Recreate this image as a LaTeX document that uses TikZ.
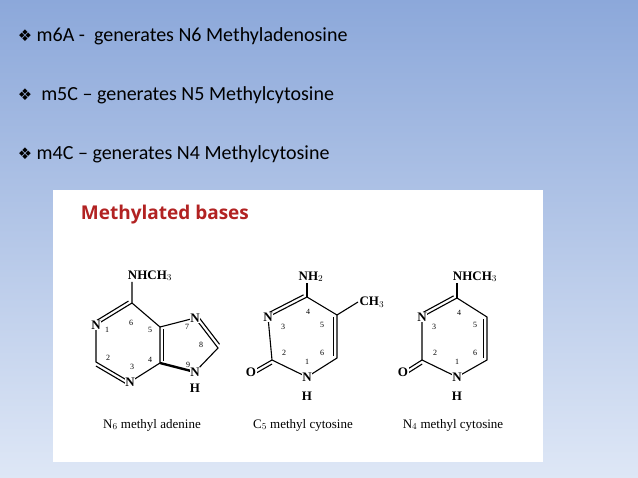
\documentclass[tikz,border=0pt]{standalone}
\usepackage{fontspec}
\setmainfont{Carlito}
\newfontfamily\chemf{Liberation Serif}
\newfontfamily\symf{DejaVu Sans}
\newfontfamily\headf{Open Sans}
\usetikzlibrary{calc}
\newcommand{\dbl}[3]{\draw[shorten <=2pt, shorten >=2pt] ($(#2)!3.5pt!#1:(#3)$) -- ($(#3)!3.5pt!-#1:(#2)$);}
\tikzset{
 atom/.style={fill=white,inner sep=0.6pt,font=\chemf\fontsize{13}{13}\selectfont\bfseries},
 num/.style={inner sep=0pt,font=\chemf\fontsize{8}{8}\selectfont},
 captxt/.style={font=\chemf\fontsize{13}{13}\selectfont},
 bul/.style={anchor=west,font=\fontsize{20}{20}\selectfont},
}
\begin{document}
\begin{tikzpicture}[x=1pt,y=-1pt,line width=1.1pt]
\shade[top color={rgb,255:red,140;green,168;blue,218},bottom color={rgb,255:red,222;green,231;blue,246}] (0,0) rectangle (638,478);
\useasboundingbox (0,0) rectangle (638,478);
\fill[white] (53,190) rectangle (543,462);
\node[bul] (b1) at (14,36) {{\symf\fontsize{16}{16}\selectfont ❖}\ m6A -\ \ generates N6 Methyladenosine};
\node[bul] (b2) at (14,95) {{\symf\fontsize{16}{16}\selectfont ❖}\ \ m5C – generates N5 Methylcytosine};
\node[bul] (b3) at (14,154) {{\symf\fontsize{16}{16}\selectfont ❖}\ m4C – generates N4 Methylcytosine};
\node[anchor=west,text={rgb,255:red,178;green,34;blue,34},font=\headf\bfseries\fontsize{19}{19}\selectfont] (ttl) at (77,215) {Methylated bases};
% adenine
\coordinate (a6) at (132,303); \coordinate (a1) at (96,325); \coordinate (a2) at (96,362);
\coordinate (a3) at (130,382); \coordinate (a4) at (160,363); \coordinate (a5) at (160,327);
\coordinate (a7) at (195,318); \coordinate (a8) at (218,348); \coordinate (a9) at (195,372);
\coordinate (ax) at (132,282);
\draw (a6)--(a1)--(a2)--(a3)--(a4)--(a5)--(a6)--(ax);
\draw (a5)--(a7)--(a8)--(a9);
\draw[line width=2.4pt] (a4)--(a9);
\dbl{-90}{a6}{a1} \dbl{-90}{a2}{a3} \dbl{-90}{a4}{a5} \dbl{90}{a7}{a8}
\node[atom] (A1) at (a1) {N}; \node[atom] (A3) at (a3) {N};
\node[atom] (A7) at (a7) {N}; \node[atom] (A9) at (a9) {N};
\node[atom] (AH) at (195,388) {H};
\node[atom,anchor=south,xshift=18pt] (AX) at (ax) {NHCH$_3$};
\foreach \t/\p in {6/{131,323},1/{107,330},5/{150,330},7/{187,327},8/{201,345},9/{188,365},4/{150,360},3/{132,367},2/{108,358}}
 \node[num] at (\p) {\t};
% C5 methyl cytosine
\coordinate (c3) at (268,317); \coordinate (c4) at (307,297); \coordinate (c5) at (337,315);
\coordinate (c6) at (337,358); \coordinate (c1) at (307,377); \coordinate (c2) at (272,360);
\coordinate (co) at (251,372); \coordinate (cn) at (307,283); \coordinate (cm) at (358,302);
\draw (c3)--(c4)--(c5)--(c6)--(c1)--(c2)--(c3); \draw (c2)--(co); \draw (c4)--(cn); \draw (c5)--(cm);
\dbl{90}{c3}{c4} \dbl{-90}{c5}{c6} \dbl{90}{c2}{co}
\node[atom] at (c3) {N}; \node[atom] at (c1) {N}; \node[atom] at (co) {O};
\node[atom] at (307,396) {H};
\node[atom,anchor=south,xshift=4pt] at (cn) {NH$_2$};
\node[atom,anchor=west,inner sep=1pt] at (cm) {CH$_3$};
\foreach \t/\p in {4/{308,312},5/{322,325},6/{322,353},1/{307,362},2/{284,353},3/{283,327}}
 \node[num] at (\p) {\t};
% N4 methyl cytosine
\coordinate (d3) at (422,317); \coordinate (d4) at (457,298); \coordinate (d5) at (487,317);
\coordinate (d6) at (487,360); \coordinate (d1) at (457,377); \coordinate (d2) at (422,360);
\coordinate (do) at (403,372); \coordinate (dn) at (457,283);
\draw (d3)--(d4)--(d5)--(d6)--(d1)--(d2)--(d3); \draw (d2)--(do); \draw (d4)--(dn);
\dbl{90}{d3}{d4} \dbl{-90}{d5}{d6} \dbl{90}{d2}{do}
\node[atom] at (d3) {N}; \node[atom] at (d1) {N}; \node[atom] at (do) {O};
\node[atom] at (457,396) {H};
\node[atom,anchor=south,xshift=18pt] at (dn) {NHCH$_3$};
\foreach \t/\p in {4/{459,313},5/{475,325},6/{475,353},1/{457,362},2/{435,353},3/{434,327}}
 \node[num] at (\p) {\t};
\node[captxt] at (152,425) {N$_6$ methyl adenine};
\node[captxt] at (303,425) {C$_5$ methyl cytosine};
\node[captxt] at (453,425) {N$_4$ methyl cytosine};
\end{tikzpicture}
\end{document}
